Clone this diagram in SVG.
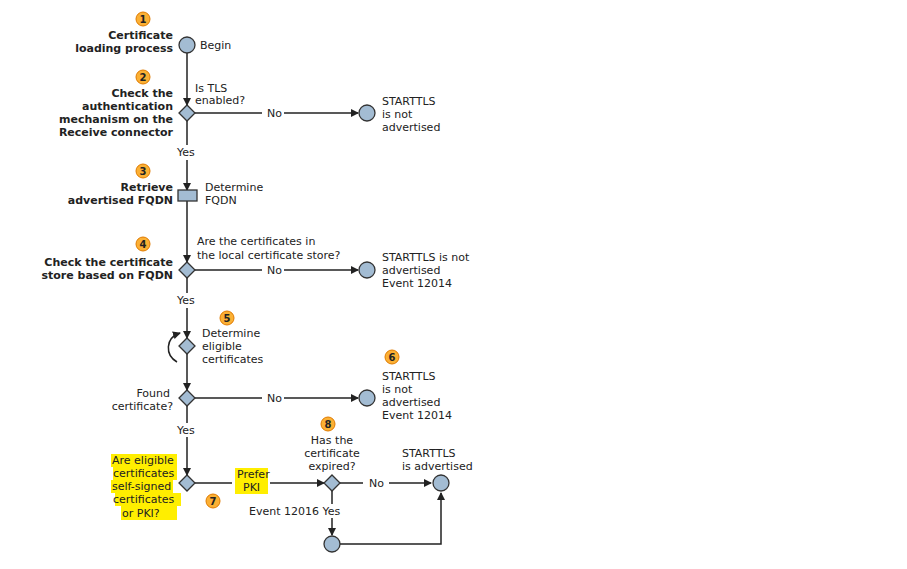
<svg xmlns="http://www.w3.org/2000/svg" width="907" height="569" viewBox="0 0 907 569">
<style>
text{font-family:"DejaVu Sans",Verdana,sans-serif;font-size:11px;fill:#222}
.b{font-weight:bold;text-anchor:end}
.n{fill:#a3bcd3;stroke:#333;stroke-width:1.3}
.l{stroke:#222;stroke-width:1.5;fill:none}
.bd circle{fill:#fbb034;stroke:#e07b00;stroke-width:1}
.bd text{font-weight:bold;text-anchor:middle;font-size:10px}
.hl{fill:#ffee00}
</style>
<defs><marker id="a" markerWidth="8" markerHeight="8" refX="7" refY="4" orient="auto" markerUnits="userSpaceOnUse"><path d="M0,0L8,4L0,8z" fill="#222"/></marker></defs>
<rect width="907" height="569" fill="#fff"/>
<g id="highlights">
<rect class="hl" x="111" y="454" width="66" height="13"/>
<rect class="hl" x="113" y="467" width="64" height="13"/>
<rect class="hl" x="111" y="480" width="62" height="13"/>
<rect class="hl" x="115" y="493" width="66" height="13"/>
<rect class="hl" x="121" y="506" width="56" height="14"/>
<rect class="hl" x="235" y="468" width="33" height="26"/>
</g>
<g id="connectors">
<line class="l" x1="187" y1="53" x2="187" y2="105" marker-end="url(#a)"/>
<line class="l" x1="195" y1="113" x2="262" y2="113"/>
<line class="l" x1="284" y1="113" x2="358" y2="113" marker-end="url(#a)"/>
<line class="l" x1="187" y1="121" x2="187" y2="145"/>
<line class="l" x1="187" y1="160" x2="187" y2="190" marker-end="url(#a)"/>
<line class="l" x1="187" y1="200" x2="187" y2="262" marker-end="url(#a)"/>
<line class="l" x1="195" y1="270" x2="262" y2="270"/>
<line class="l" x1="284" y1="270" x2="358" y2="270" marker-end="url(#a)"/>
<line class="l" x1="187" y1="278" x2="187" y2="293"/>
<line class="l" x1="187" y1="308" x2="187" y2="338" marker-end="url(#a)"/>
<line class="l" x1="187" y1="354" x2="187" y2="390" marker-end="url(#a)"/>
<path class="l" d="M177,362 C165,355 165,338 180,333" marker-end="url(#a)"/>
<line class="l" x1="195" y1="398" x2="262" y2="398"/>
<line class="l" x1="284" y1="398" x2="358" y2="398" marker-end="url(#a)"/>
<line class="l" x1="187" y1="406" x2="187" y2="423"/>
<line class="l" x1="187" y1="437" x2="187" y2="475" marker-end="url(#a)"/>
<line class="l" x1="195" y1="483" x2="232" y2="483"/>
<line class="l" x1="270" y1="483" x2="324" y2="483" marker-end="url(#a)"/>
<line class="l" x1="340" y1="483" x2="363" y2="483"/>
<line class="l" x1="389" y1="483" x2="431" y2="483" marker-end="url(#a)"/>
<line class="l" x1="332" y1="491" x2="332" y2="504"/>
<line class="l" x1="332" y1="518" x2="332" y2="535" marker-end="url(#a)"/>
<path class="l" d="M340,544 H441 V493" marker-end="url(#a)"/>
</g>
<g id="labels">
<text x="267" y="117">No</text><text x="267" y="274">No</text><text x="267" y="402">No</text><text x="369" y="487">No</text>
<text x="177" y="156">Yes</text><text x="177" y="304">Yes</text><text x="177" y="434">Yes</text>
<text x="249" y="515">Event 12016 Yes</text>
</g>
<g id="n1"><circle class="n" cx="187" cy="45" r="8"/><text x="200" y="49">Begin</text><text class="b" x="173" y="39">Certificate</text><text class="b" x="173" y="52">loading process</text></g>
<g id="n2"><path class="n" d="M187,105L195,113L187,121L179,113z"/><text x="195" y="92">Is TLS</text><text x="195" y="104">enabled?</text><text class="b" x="173" y="97">Check the</text><text class="b" x="173" y="110">authentication</text><text class="b" x="173" y="123">mechanism on the</text><text class="b" x="173" y="136">Receive connector</text></g>
<g id="n2no"><circle class="n" cx="367" cy="113" r="8"/><text x="382" y="105">STARTTLS</text><text x="382" y="118">is not</text><text x="382" y="131">advertised</text></g>
<g id="n3"><rect class="n" x="178" y="190" width="19" height="11"/><text x="205" y="191">Determine</text><text x="205" y="204">FQDN</text><text class="b" x="173" y="191">Retrieve</text><text class="b" x="173" y="204">advertised FQDN</text></g>
<g id="n4"><path class="n" d="M187,262L195,270L187,278L179,270z"/><text x="197" y="245">Are the certificates in</text><text x="197" y="259">the local certificate store?</text><text class="b" x="173" y="266">Check the certificate</text><text class="b" x="173" y="279">store based on FQDN</text></g>
<g id="n4no"><circle class="n" cx="367" cy="270" r="8"/><text x="382" y="261">STARTTLS is not</text><text x="382" y="274">advertised</text><text x="382" y="287">Event 12014</text></g>
<g id="n5"><path class="n" d="M187,338L195,346L187,354L179,346z"/><text x="202" y="337">Determine</text><text x="202" y="350">eligible</text><text x="202" y="363">certificates</text></g>
<g id="n6"><path class="n" d="M187,390L195,398L187,406L179,398z"/><text x="170" y="397" text-anchor="end">Found</text><text x="173" y="410" text-anchor="end">certificate?</text></g>
<g id="n6no"><circle class="n" cx="367" cy="398" r="8"/><text x="382" y="380">STARTTLS</text><text x="382" y="393">is not</text><text x="382" y="406">advertised</text><text x="382" y="419">Event 12014</text></g>
<g id="n7"><path class="n" d="M187,475L195,483L187,491L179,483z"/><text x="112" y="464">Are eligible</text><text x="113" y="477">certificates</text><text x="112" y="490">self-signed</text><text x="113" y="503">certificates</text><text x="122" y="517">or PKI?</text><text x="237" y="478">Prefer</text><text x="243" y="491">PKI</text></g>
<g id="n8"><path class="n" d="M332,475L340,483L332,491L324,483z"/><text x="332" y="444" text-anchor="middle">Has the</text><text x="332" y="457" text-anchor="middle">certificate</text><text x="332" y="470" text-anchor="middle">expired?</text></g>
<g id="nadv"><circle class="n" cx="441" cy="483" r="8"/><text x="402" y="457">STARTTLS</text><text x="402" y="470">is advertised</text></g>
<g id="nexp"><circle class="n" cx="332" cy="544" r="8"/></g>
<g id="badges" class="bd">
<circle cx="143" cy="19" r="7"/><text x="143" y="23">1</text>
<circle cx="143" cy="77" r="7"/><text x="143" y="81">2</text>
<circle cx="143" cy="171" r="7"/><text x="143" y="175">3</text>
<circle cx="143" cy="244" r="7"/><text x="143" y="248">4</text>
<circle cx="227" cy="318" r="7"/><text x="227" y="322">5</text>
<circle cx="392" cy="357" r="7"/><text x="392" y="361">6</text>
<circle cx="213" cy="501" r="7"/><text x="213" y="505">7</text>
<circle cx="328" cy="424" r="7"/><text x="328" y="428">8</text>
</g>
</svg>
